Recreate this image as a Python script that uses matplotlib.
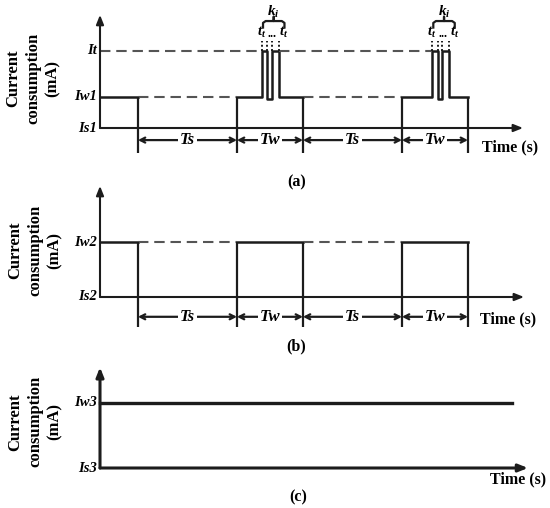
import numpy as np
import matplotlib
matplotlib.use("Agg")
import matplotlib.pyplot as plt

plt.rcParams['font.family'] = ['Liberation Serif', 'DejaVu Serif']
plt.rcParams['mathtext.fontset'] = 'custom'
plt.rcParams['mathtext.it'] = 'Liberation Serif:italic:bold'
plt.rcParams['mathtext.rm'] = 'Liberation Serif:bold'

# timing of the duty cycle (time units, schematic)
transitions = [1.15, 4.15, 6.15, 9.15, 11.15]
phase_labels = ['Ts', 'Tw', 'Ts', 'Tw']
wake_intervals = [(0, 1.15), (4.15, 6.15), (9.15, 11.15)]
sleep_intervals = [(1.15, 4.15), (6.15, 9.15)]

# transmission bursts in panel (a): (start, end) of each pulse
bursts_a = [[(4.91, 5.06), (5.22, 5.43)],
            [(10.07, 10.23), (10.37, 10.59)]]

# current levels
levels_a = {'Is1': 0.0, 'Iw1': 1.0, 'It': 2.5}
levels_b = {'Is2': 0.0, 'Iw2': 1.0}
levels_c = {'Is3': 0.0, 'Iw3': 1.0}
trough_a = 0.93
end_c = 12.48

W, H = 550, 508
X0, XS = 100, 33
ink = '#1c1c1c'
dash = '#555555'

fig = plt.figure(figsize=(W / 100, H / 100), dpi=100)


def panel(top, bot, y0, ys):
    ax = fig.add_axes([0, 1 - bot / H, 1, (bot - top) / H])
    ax.set_xlim(-X0 / XS, (W - X0) / XS)
    ax.set_ylim((y0 - bot) / ys, (y0 - top) / ys)
    ax.axis('off')
    return ax


def axes_arrows(ax, xtip, ytip, lw=1.5):
    kw = dict(arrowstyle='-|>,head_length=0.55,head_width=0.22', lw=lw,
              color=ink, shrinkA=0, shrinkB=0)
    ax.annotate('', xy=(xtip, 0), xytext=(0, 0), arrowprops=kw,
                annotation_clip=False)
    ax.annotate('', xy=(0, ytip), xytext=(0, 0), arrowprops=kw,
                annotation_clip=False)


def yticks(ax, levels):
    for name, v in levels.items():
        ax.text(-0.09, v, name, ha='right', va='center',
                fontsize=10.5, fontweight='bold', style='italic')


def ylabel(ax, x, y):
    ax.text(x, y, 'Current\nconsumption\n(mA)', rotation=90, ha='center',
            va='center', fontsize=12, fontweight='bold', linespacing=1.3)


def phase_row(ax, y, ybot, top):
    ax.vlines(transitions, ybot, top, color=ink, lw=1.6)
    for (a, b), lab in zip(zip(transitions[:-1], transitions[1:]), phase_labels):
        ax.annotate('', xy=(a, y), xytext=(b, y), annotation_clip=False,
                    arrowprops=dict(arrowstyle='<->,head_length=0.35,head_width=0.18',
                                    lw=1.6, color=ink, shrinkA=0, shrinkB=0))
        ax.text((a + b) / 2, y, lab, ha='center', va='center', fontsize=12,
                fontweight='bold', style='italic',
                bbox=dict(fc='white', ec='none', pad=1.5))


def brace(ax, x0, x1, ylo, yhi, ytip):
    xm = (x0 + x1) / 2
    r = 0.08
    xs = [x0, x0, x0 + r, xm - 0.03, xm, xm, xm, xm + 0.03, x1 - r, x1, x1]
    ys = [ylo, yhi - 0.06, yhi, yhi, yhi, ytip, yhi, yhi, yhi, yhi - 0.06, ylo]
    ax.plot(xs, ys, color=ink, lw=1.6, solid_joinstyle='round')


# ---------------- panel (a)
ax = panel(0, 190, 128, 31)
Iw, It = levels_a['Iw1'], levels_a['It']
axes_arrows(ax, 12.82, 3.65)
yticks(ax, levels_a)
ylabel(ax, -2.03, 1.61)

bursts_iter = iter([None] + bursts_a)
for (a, b), burst in zip(wake_intervals, bursts_iter):
    xs, ys = [a], [Iw]
    if burst:
        for k, (p0, p1) in enumerate(burst):
            xs += [p0, p0, p1]
            ys += [Iw if k == 0 else trough_a, It, It]
            nxt = Iw if k == len(burst) - 1 else trough_a
            xs += [p1]
            ys += [nxt]
    xs.append(b)
    ys.append(Iw)
    ax.plot(xs, ys, color=ink, lw=1.8)

# dashed reference levels
ax.hlines(It, 0, bursts_a[0][0][0], color=dash, lw=1.5, linestyles=(0, (5, 2.8)))
ax.hlines(It, bursts_a[0][-1][1], bursts_a[1][0][0], color=dash, lw=1.5,
          linestyles=(0, (5, 2.8)))
for a, b in sleep_intervals:
    ax.hlines(Iw, a, b, color=dash, lw=1.5, linestyles=(0, (5, 2.8)))

# burst annotations
for burst in bursts_a:
    edges = [burst[0][0], burst[0][1], burst[1][0], burst[1][1]]
    ax.vlines(edges, It, It + 0.3, color=ink, lw=1.4, linestyles=(0, (1, 1.2)))
    x0, x1 = burst[0][0], burst[-1][1]
    ax.text(x0 - 0.02, 3.07, r'$t_t$', ha='center', va='center', fontsize=10.5)
    ax.text((x0 + x1) / 2 + 0.05, 3.02, '...', ha='center', va='center',
            fontsize=9, fontweight='bold')
    ax.text(x1 + 0.14, 3.07, r'$t_t$', ha='center', va='center', fontsize=10.5)
    brace(ax, x0 + 0.03, x1 + 0.16, 3.24, 3.45, 3.59)
    ax.text((x0 + x1 + 0.19) / 2, 3.74, r'$k_i$', ha='center', va='center',
            fontsize=11)

phase_row(ax, -0.39, -0.81, Iw)
ax.text(12.42, -0.61, 'Time (s)', ha='center', va='center', fontsize=11.5,
        fontweight='bold')
ax.text(5.97, -1.74, '(a)', ha='center', va='center', fontsize=11.5,
        fontweight='bold')

# ---------------- panel (b)
ax = panel(190, 355, 297, 55)
Iw = levels_b['Iw2']
axes_arrows(ax, 12.85, 2.02)
yticks(ax, levels_b)
ylabel(ax, -1.97, 0.85)
for a, b in wake_intervals:
    ax.plot([a, b], [Iw, Iw], color=ink, lw=1.8)
for a, b in sleep_intervals:
    ax.hlines(Iw, a, b, color=dash, lw=1.5, linestyles=(0, (5, 2.8)))
phase_row(ax, -0.36, -0.55, Iw)
ax.text(12.36, -0.40, 'Time (s)', ha='center', va='center', fontsize=11.5,
        fontweight='bold')
ax.text(5.94, -0.89, '(b)', ha='center', va='center', fontsize=11.5,
        fontweight='bold')

# ---------------- panel (c)
ax = panel(355, 508, 468, 65)
axes_arrows(ax, 12.97, 1.55, lw=2.2)
yticks(ax, levels_c)
ylabel(ax, -1.97, 0.71)
ax.plot([0, end_c], [levels_c['Iw3']] * 2, color=ink, lw=2.4)
ax.text(12.67, -0.18, 'Time (s)', ha='center', va='center', fontsize=11.5,
        fontweight='bold')
ax.text(6.0, -0.45, '(c)', ha='center', va='center', fontsize=11.5,
        fontweight='bold')

fig.savefig('out.png', dpi=100)
